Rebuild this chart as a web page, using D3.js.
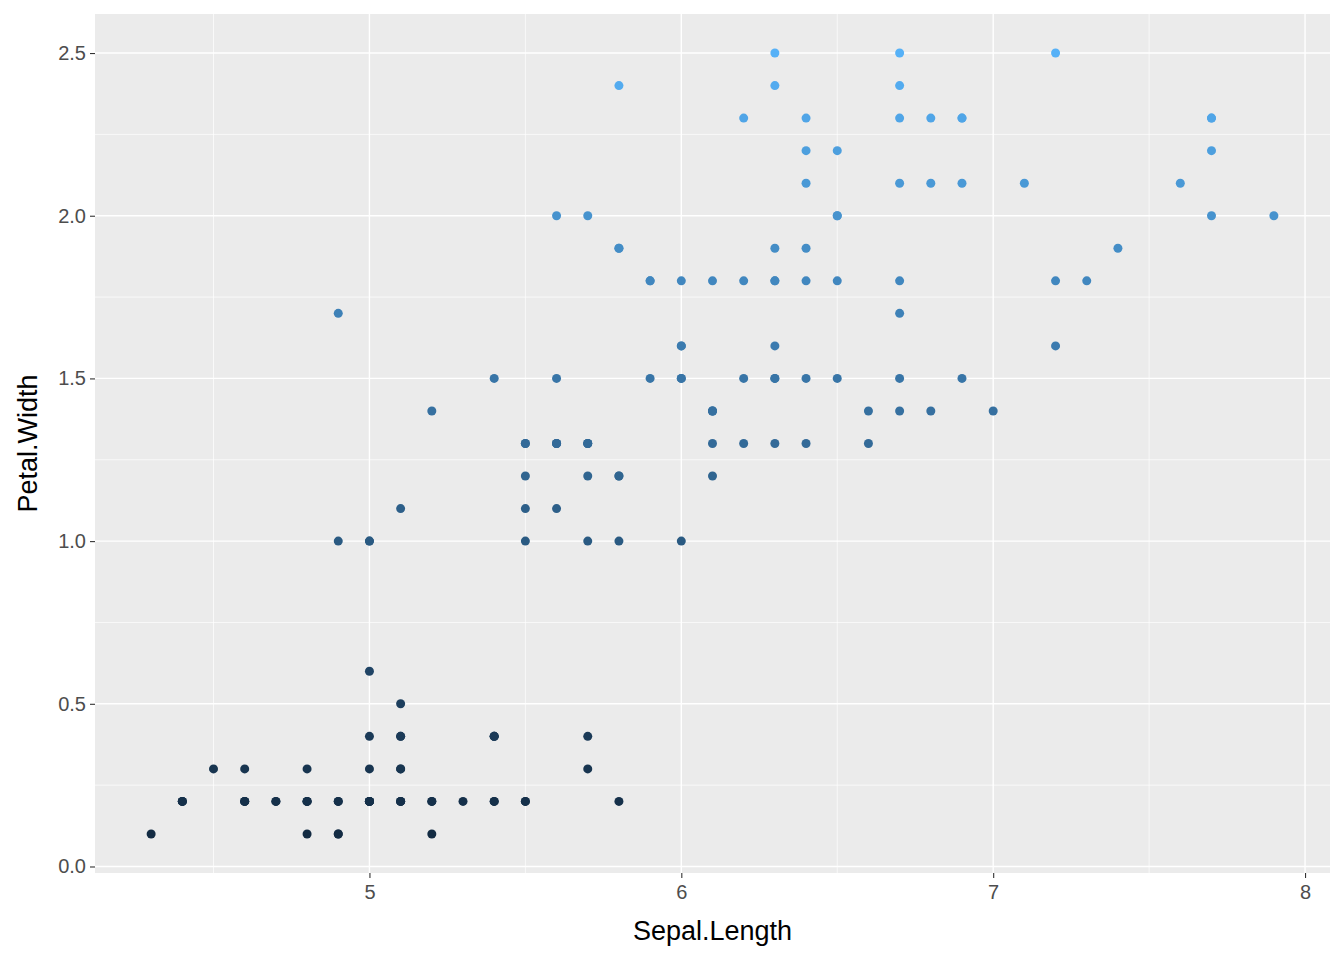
<!DOCTYPE html>
<html><head><meta charset="utf-8">
<script src="https://cdn.jsdelivr.net/npm/d3@7"></script>
<style>body{margin:0;background:#fff}</style>
</head><body>
<svg id="chart" width="1344" height="960"></svg>
<script>
// iris: Sepal.Length and Petal.Width
const sepalLength = [5.1,4.9,4.7,4.6,5.0,5.4,4.6,5.0,4.4,4.9,5.4,4.8,4.8,4.3,5.8,5.7,5.4,5.1,5.7,5.1,5.4,5.1,4.6,5.1,4.8,5.0,5.0,5.2,5.2,4.7,4.8,5.4,5.2,5.5,4.9,5.0,5.5,4.9,4.4,5.1,5.0,4.5,4.4,5.0,5.1,4.8,5.1,4.6,5.3,5.0,
 7.0,6.4,6.9,5.5,6.5,5.7,6.3,4.9,6.6,5.2,5.0,5.9,6.0,6.1,5.6,6.7,5.6,5.8,6.2,5.6,5.9,6.1,6.3,6.1,6.4,6.6,6.8,6.7,6.0,5.7,5.5,5.5,5.8,6.0,5.4,6.0,6.7,6.3,5.6,5.5,5.5,6.1,5.8,5.0,5.6,5.7,5.7,6.2,5.1,5.7,
 6.3,5.8,7.1,6.3,6.5,7.6,4.9,7.3,6.7,7.2,6.5,6.4,6.8,5.7,5.8,6.4,6.5,7.7,7.7,6.0,6.9,5.6,7.7,6.3,6.7,7.2,6.2,6.1,6.4,7.2,7.4,7.9,6.4,6.3,6.1,7.7,6.3,6.4,6.0,6.9,6.7,6.9,5.8,6.8,6.7,6.7,6.3,6.5,6.2,5.9];
const petalWidth = [0.2,0.2,0.2,0.2,0.2,0.4,0.3,0.2,0.2,0.1,0.2,0.2,0.1,0.1,0.2,0.4,0.4,0.3,0.3,0.3,0.2,0.4,0.2,0.5,0.2,0.2,0.4,0.2,0.2,0.2,0.2,0.4,0.1,0.2,0.2,0.2,0.2,0.1,0.2,0.2,0.3,0.3,0.2,0.6,0.4,0.3,0.2,0.2,0.2,0.2,
 1.4,1.5,1.5,1.3,1.5,1.3,1.6,1.0,1.3,1.4,1.0,1.5,1.0,1.4,1.3,1.4,1.5,1.0,1.5,1.1,1.8,1.3,1.5,1.2,1.3,1.4,1.4,1.7,1.5,1.0,1.1,1.0,1.2,1.6,1.5,1.6,1.5,1.3,1.3,1.3,1.2,1.4,1.2,1.0,1.3,1.2,1.3,1.3,1.1,1.3,
 2.5,1.9,2.1,1.8,2.2,2.1,1.7,1.8,1.8,2.5,2.0,1.9,2.1,2.0,2.4,2.3,1.8,2.2,2.3,1.5,2.3,2.0,2.0,1.8,2.1,1.8,1.8,1.8,2.1,1.6,1.9,2.0,2.2,1.5,1.4,2.3,2.4,1.8,1.8,2.1,2.4,2.3,1.9,2.3,2.5,2.3,1.9,2.0,2.3,1.8];
const xTicks = [5, 6, 7, 8];
const yTicks = [0, 0.5, 1, 1.5, 2, 2.5];

const svg = d3.select("#chart");
const pLeft = 95, pRight = 1330, pTop = 14, pBottom = 873;

const x = d3.scaleLinear().domain([4.12, 8.08]).range([pLeft, pRight]);
const y = d3.scaleLinear().domain([-0.02, 2.62]).range([pBottom, pTop]);
const color = d3.scaleLinear().domain([0.1, 2.5]).range(["#132B43", "#56B1F7"]).interpolate(d3.interpolateLab);

// panel background
svg.append("rect").attr("x", pLeft).attr("y", pTop)
    .attr("width", pRight - pLeft).attr("height", pBottom - pTop).attr("fill", "#EBEBEB");

// minor grid
const xMinor = [4.5, 5.5, 6.5, 7.5];
const yMinor = [0.25, 0.75, 1.25, 1.75, 2.25];
svg.append("g").selectAll("line").data(xMinor).enter().append("line")
    .attr("x1", d => x(d)).attr("x2", d => x(d)).attr("y1", pTop).attr("y2", pBottom)
    .attr("stroke", "#fff").attr("stroke-width", 0.7);
svg.append("g").selectAll("line").data(yMinor).enter().append("line")
    .attr("y1", d => y(d)).attr("y2", d => y(d)).attr("x1", pLeft).attr("x2", pRight)
    .attr("stroke", "#fff").attr("stroke-width", 0.7);
// major grid
svg.append("g").selectAll("line").data(xTicks).enter().append("line")
    .attr("x1", d => x(d)).attr("x2", d => x(d)).attr("y1", pTop).attr("y2", pBottom)
    .attr("stroke", "#fff").attr("stroke-width", 1.4);
svg.append("g").selectAll("line").data(yTicks).enter().append("line")
    .attr("y1", d => y(d)).attr("y2", d => y(d)).attr("x1", pLeft).attr("x2", pRight)
    .attr("stroke", "#fff").attr("stroke-width", 1.4);

// axes
const xAxis = svg.append("g").attr("transform", "translate(0," + pBottom + ")")
    .call(d3.axisBottom(x).tickValues(xTicks).tickSize(5).tickPadding(4).tickFormat(d3.format("d")));
const yAxis = svg.append("g").attr("transform", "translate(" + pLeft + ",0)")
    .call(d3.axisLeft(y).tickValues(yTicks).tickSize(5).tickPadding(4).tickFormat(d3.format(".1f")));
[xAxis, yAxis].forEach(a => {
    a.select(".domain").remove();
    a.selectAll(".tick line").attr("stroke", "#333").attr("stroke-width", 1.1);
    a.selectAll(".tick text").attr("fill", "#4D4D4D")
        .style("font-family", "Liberation Sans, Arial, sans-serif").style("font-size", "20px");
});
xAxis.selectAll(".tick text").attr("dy", "0.85em");

// points
svg.append("g").selectAll("circle").data(d3.range(sepalLength.length)).enter().append("circle")
    .attr("cx", i => x(sepalLength[i]))
    .attr("cy", i => y(petalWidth[i]))
    .attr("r", 4.5)
    .attr("fill", i => color(petalWidth[i]));

// axis titles
svg.append("text").attr("x", (pLeft + pRight) / 2).attr("y", 940)
    .attr("text-anchor", "middle").text("Sepal.Length")
    .style("font-family", "Liberation Sans, Arial, sans-serif").style("font-size", "27px");
svg.append("text").attr("transform", "translate(37," + (pTop + pBottom) / 2 + ") rotate(-90)")
    .attr("text-anchor", "middle").text("Petal.Width")
    .style("font-family", "Liberation Sans, Arial, sans-serif").style("font-size", "27px");
</script>
</body></html>
